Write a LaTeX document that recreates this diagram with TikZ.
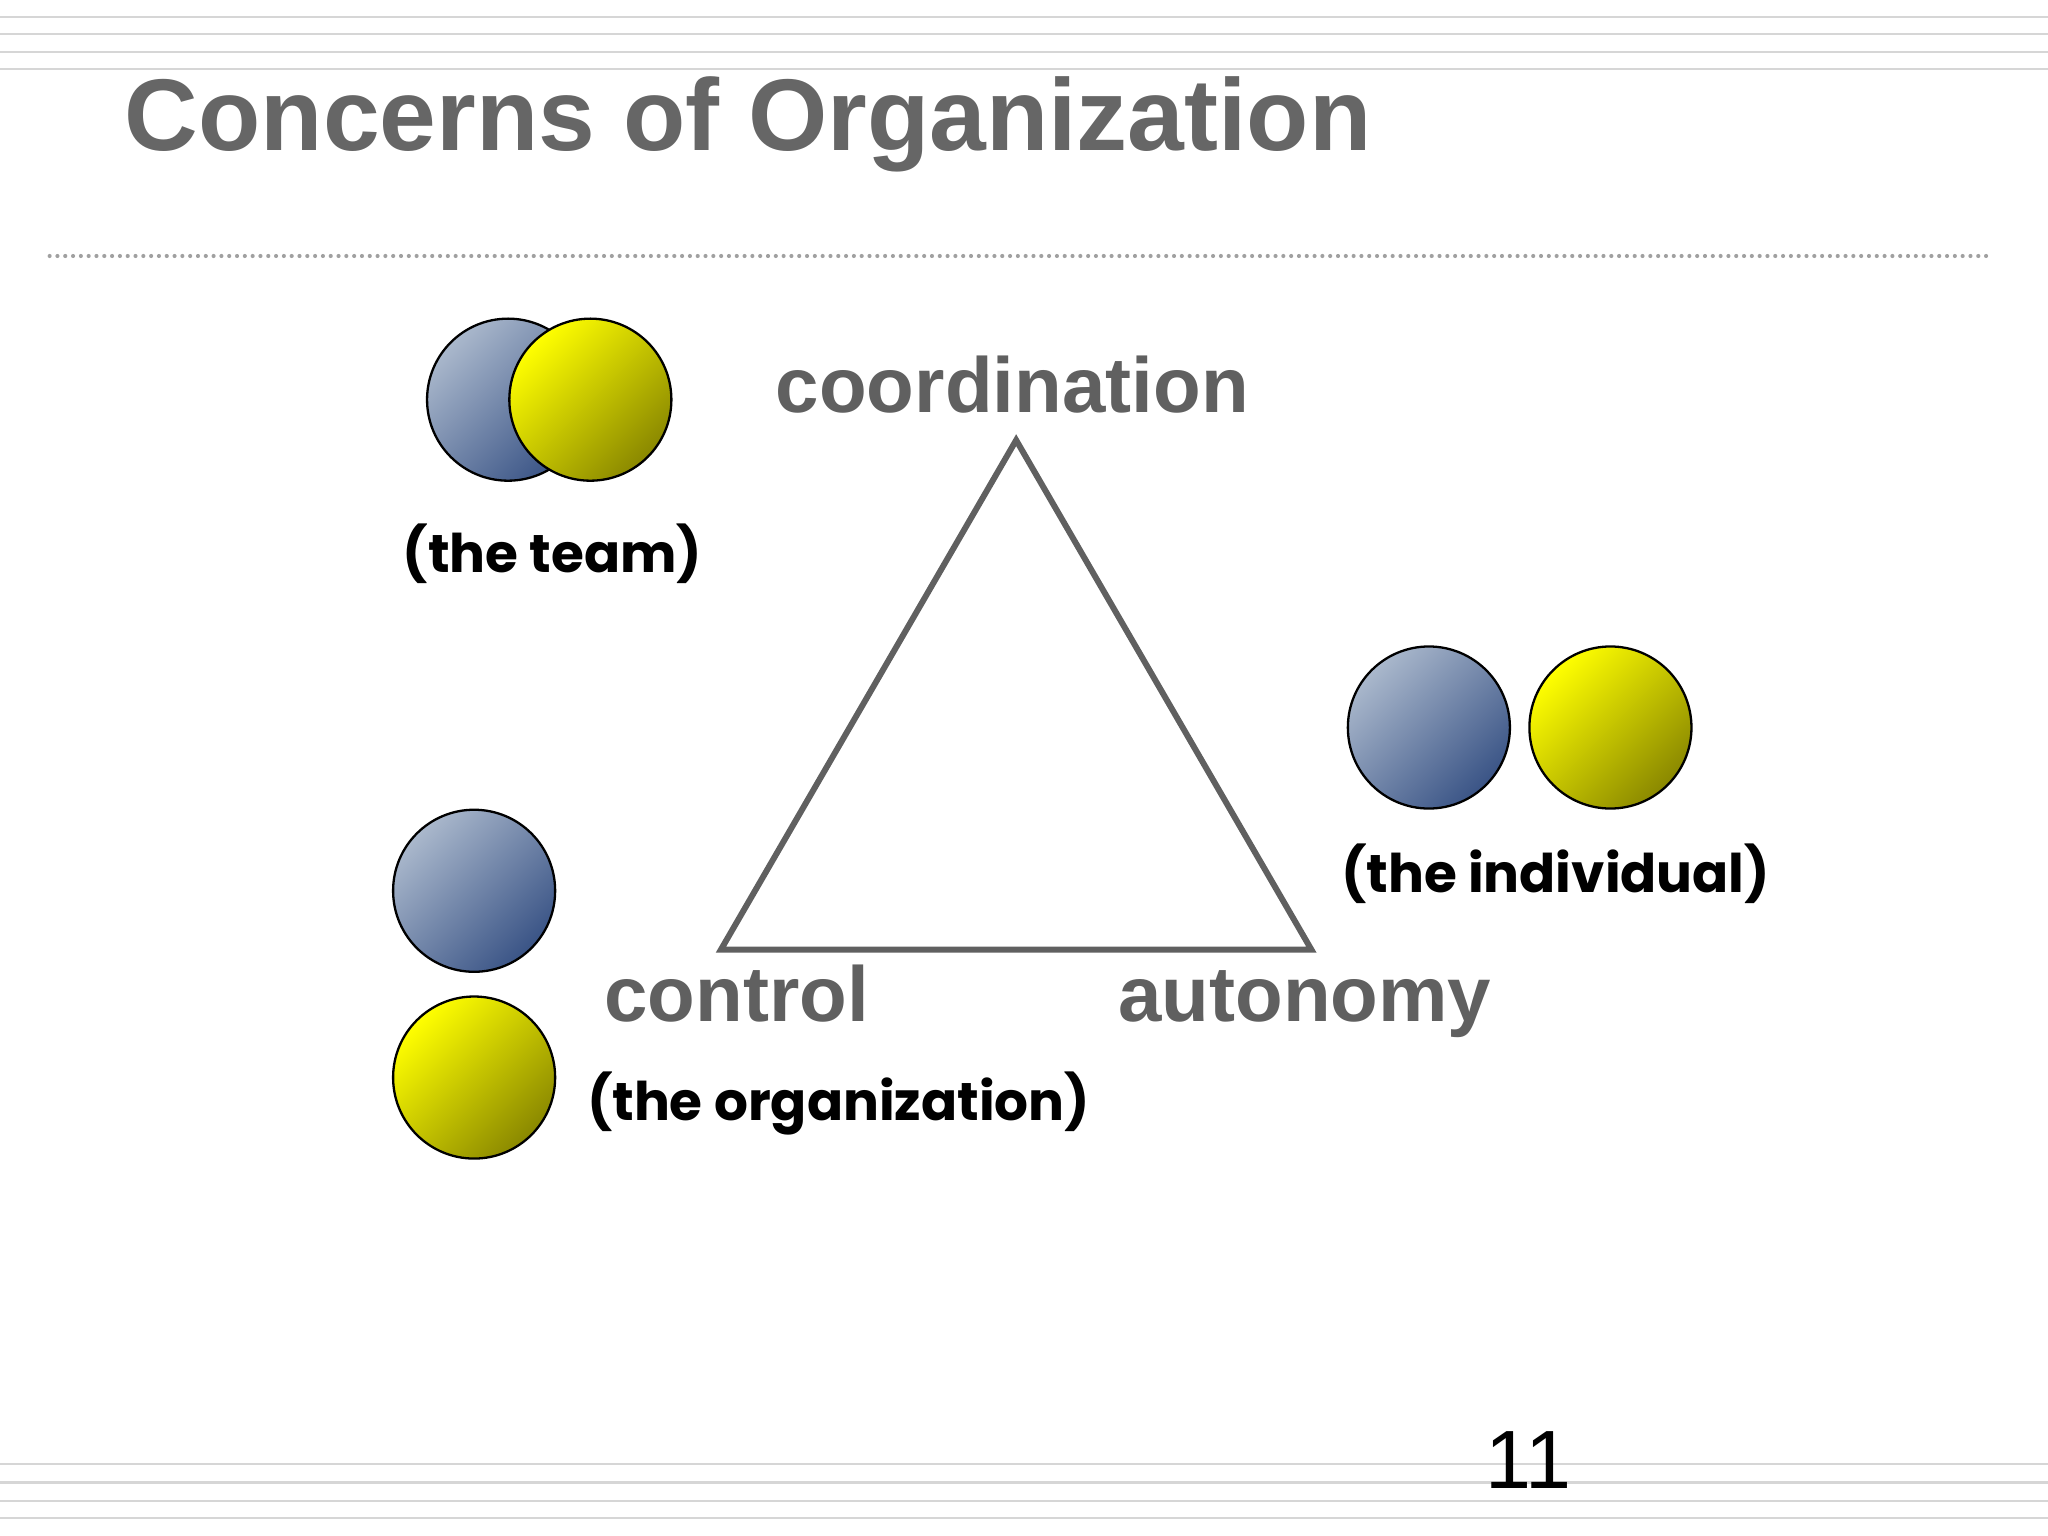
\documentclass[tikz,border=0pt]{standalone}
\usepackage{fontspec}
\setmainfont{Liberation Sans}
\newfontfamily\gothicfont{Poppins}
\definecolor{rulegray}{HTML}{D6D6D6}
\definecolor{dotgray}{HTML}{A0A0A0}
\definecolor{titlegray}{HTML}{666666}
\definecolor{labelgray}{HTML}{606060}
\definecolor{bluelight}{HTML}{AAB8CC}
\definecolor{bluedark}{HTML}{3A5486}
\definecolor{yellowlight}{HTML}{FFFF00}
\definecolor{yellowdark}{HTML}{8A8800}

\begin{document}
\begin{tikzpicture}[x=0.01cm,y=-0.01cm,
	disc/.style={circle,draw=black,line width=0.5pt,minimum size=1.24cm},
	bluedisc/.style={disc,top color=bluelight,bottom color=bluedark,shading angle=45},
	yellowdisc/.style={disc,top color=yellowlight,bottom color=yellowdark,shading angle=45},
	concept/.style={anchor=base,text=labelgray,font=\fontsize{17}{20}\selectfont\bfseries},
	who/.style={font=\gothicfont\fontsize{11.6}{14}\selectfont\bfseries}]
		\tikzstyle{every node}+=[inner sep=0pt]
		\useasboundingbox (0,0) rectangle (1568,1176);
		% page rules
		\foreach \y in {13,26,40,53,1121,1135,1149,1162}
			\draw [rulegray,line width=0.5pt] (0,\y) -- (1568,\y);
		\node [anchor=base west,text=titlegray,font=\fontsize{22.2}{26}\selectfont\bfseries] (title) at (95,115) {Concerns of Organization};
		\draw [dotgray,line width=0.9pt,line cap=round,dash pattern=on 0pt off 1.7pt] (38,196) -- (1525,196);
		% triangle
		\coordinate (apex) at (778,337);
		\coordinate (left) at (552,727);
		\coordinate (right) at (1004,727);
		\draw [labelgray,line width=1.3pt,line join=miter] (apex) -- (left) -- (right) -- cycle;
		\node [concept] (coordination) at (775,316) {coordination};
		\node [concept] (control) at (564,782) {control};
		\node [concept] (autonomy) at (999,782) {autonomy};
		% the team
		\node [bluedisc] (teamblue) at (389,306) {};
		\node [yellowdisc] (teamyellow) at (452,306) {};
		\node [who] (team) at (423,424) {(the team)};
		% the individual
		\node [bluedisc] (indblue) at (1094,557) {};
		\node [yellowdisc] (indyellow) at (1233,557) {};
		\node [who] (individual) at (1191,669) {(the individual)};
		% the organization
		\node [bluedisc] (orgblue) at (363,682) {};
		\node [yellowdisc] (orgyellow) at (363,825) {};
		\node [who] (organization) at (642,845) {(the organization)};
		\node [font=\fontsize{18}{20}\selectfont] (page) at (1170,1118) {11};
\end{tikzpicture}
\end{document}
